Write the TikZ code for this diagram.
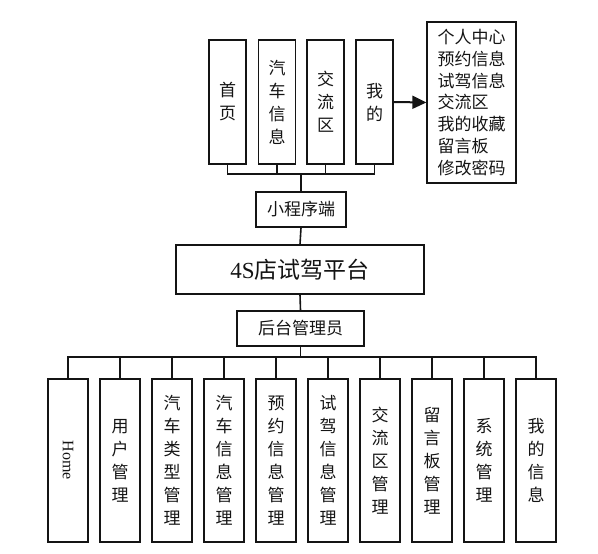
\documentclass[tikz,border=0pt]{standalone}
\usepackage{fontspec}
\setmainfont{Liberation Serif}
\newfontfamily\cjk{Noto Sans CJK SC}
\usetikzlibrary{arrows.meta}
\usetikzlibrary{positioning}
\tikzset{box/.style = {draw, line width=1.3pt, inner sep=0pt, align=center,
                       font=\cjk\fontsize{17}{23}\selectfont}}
\tikzset{topbox/.style = {box, minimum width=37pt, minimum height=124pt}}
\tikzset{admbox/.style = {box, minimum width=40pt, minimum height=163pt}}
\tikzset{link/.style = {line width=1.6pt}}
\definecolor{mline}{rgb}{0.08, 0.08, 0.08}

\begin{document}
\begin{tikzpicture}[x=1pt, y=-1pt, mline]
      \useasboundingbox (0, 0) rectangle (598, 554);

      % mini program side
      \node [topbox] (home) at (227.5, 102) {首\\页};
      \node [topbox] (car) at (277, 102) {汽\\车\\信\\息};
      \node [topbox] (talk) at (325.5, 102) {交\\流\\区};
      \node [topbox] (mine) at (374.5, 102) {我\\的};
      \node [box, minimum width=89pt, minimum height=161pt, align=left,
             font=\cjk\fontsize{17}{21.7}\selectfont] (menu) at (471.5, 102.5)
            {个人中心\\预约信息\\试驾信息\\交流区\\我的收藏\\留言板\\修改密码};
      \draw [line width=2pt, -{Triangle[length=14pt, width=13pt]}] (mine.east) -- (menu.west);

      \node [box, minimum width=90pt, minimum height=35pt] (app) at (301, 209.5) {小程序端};
      \coordinate (topbus) at (301, 174);
      \foreach \n in {home, car, talk, mine} {
        \draw [link] (\n.south) |- (topbus);
      }
      \draw [link] (topbus) -- (app.north);

      % platform
      \node [box, minimum width=248pt, minimum height=49pt,
             font=\fontsize{23}{26}\selectfont] (plat) at (300, 269.5) {4S{\cjk 店试驾平台}};
      \draw [link] (app.south) -- (plat.north);

      % admin side
      \node [box, minimum width=127pt, minimum height=35pt] (admin) at (300.5, 328.5) {后台管理员};
      \draw [link] (plat.south) -- (admin.north);
      \coordinate (admbus) at (300.5, 357);
      \draw [link] (admin.south) -- (admbus);

      \node [admbox] (adm0) at (68, 460.5) {\rotatebox{-90}{\rmfamily\fontsize{16}{18}\selectfont Home}};
      \draw [link] (admbus) -| (adm0.north);
      \foreach \txt [count=\i] in {用\\户\\管\\理, 汽\\车\\类\\型\\管\\理, 汽\\车\\信\\息\\管\\理,
                                   预\\约\\信\\息\\管\\理, 试\\驾\\信\\息\\管\\理, 交\\流\\区\\管\\理,
                                   留\\言\\板\\管\\理, 系\\统\\管\\理, 我\\的\\信\\息} {
        \node [admbox] (adm\i) at (68 + 52 * \i, 460.5) {\txt};
        \draw [link] (admbus) -| (adm\i.north);
      }
    \end{tikzpicture}
\end{document}
